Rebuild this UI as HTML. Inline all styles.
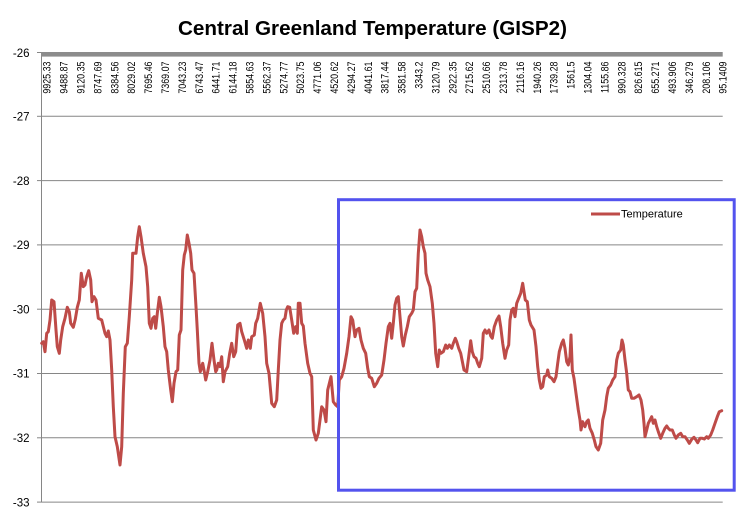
<!DOCTYPE html>
<html>
<head>
<meta charset="utf-8">
<style>
html,body{margin:0;padding:0;background:#fff;}
svg{display:block;}
text{font-family:"Liberation Sans",Arial,sans-serif;fill:#000;}
</style>
</head>
<body>
<svg width="744" height="519" viewBox="0 0 744 519" xmlns="http://www.w3.org/2000/svg">
<rect x="0" y="0" width="744" height="519" fill="#fff"/>
<!-- title -->
<text x="178" y="35" font-size="20.5" font-weight="bold" textLength="389" lengthAdjust="spacingAndGlyphs">Central Greenland Temperature (GISP2)</text>

<!-- gridlines -->
<g stroke="#868686" stroke-width="1" fill="none">
<line x1="41.5" y1="116.3" x2="722.7" y2="116.3"/>
<line x1="41.5" y1="180.6" x2="722.7" y2="180.6"/>
<line x1="41.5" y1="244.9" x2="722.7" y2="244.9"/>
<line x1="41.5" y1="309.2" x2="722.7" y2="309.2"/>
<line x1="41.5" y1="373.5" x2="722.7" y2="373.5"/>
<line x1="41.5" y1="437.8" x2="722.7" y2="437.8"/>
<line x1="41.5" y1="502.1" x2="722.7" y2="502.1"/>
<line x1="41.5" y1="52" x2="41.5" y2="502.1"/>
<line x1="37" y1="52.5" x2="41.5" y2="52.5"/>
<line x1="37" y1="116.3" x2="41.5" y2="116.3"/>
<line x1="37" y1="180.6" x2="41.5" y2="180.6"/>
<line x1="37" y1="244.9" x2="41.5" y2="244.9"/>
<line x1="37" y1="309.2" x2="41.5" y2="309.2"/>
<line x1="37" y1="373.5" x2="41.5" y2="373.5"/>
<line x1="37" y1="437.8" x2="41.5" y2="437.8"/>
<line x1="37" y1="502.1" x2="41.5" y2="502.1"/>
</g>
<rect x="41" y="52" width="681.7" height="4.6" fill="#8c8c8c"/>

<!-- y labels -->
<g font-size="11.5" text-anchor="end">
<text x="29.5" y="57">-26</text>
<text x="29.5" y="120.5">-27</text>
<text x="29.5" y="184.8">-28</text>
<text x="29.5" y="249.1">-29</text>
<text x="29.5" y="313.4">-30</text>
<text x="29.5" y="377.7">-31</text>
<text x="29.5" y="442">-32</text>
<text x="29.5" y="506.3">-33</text>
</g>

<!-- x labels -->
<g font-size="11" text-anchor="end">
<text transform="translate(50.7,61.5) rotate(-90) scale(0.81,1)">9925.33</text>
<text transform="translate(67.6,61.5) rotate(-90) scale(0.81,1)">9488.87</text>
<text transform="translate(84.5,61.5) rotate(-90) scale(0.81,1)">9120.35</text>
<text transform="translate(101.4,61.5) rotate(-90) scale(0.81,1)">8747.69</text>
<text transform="translate(118.3,61.5) rotate(-90) scale(0.81,1)">8384.56</text>
<text transform="translate(135.2,61.5) rotate(-90) scale(0.81,1)">8029.02</text>
<text transform="translate(152.1,61.5) rotate(-90) scale(0.81,1)">7695.46</text>
<text transform="translate(169.0,61.5) rotate(-90) scale(0.81,1)">7369.07</text>
<text transform="translate(185.9,61.5) rotate(-90) scale(0.81,1)">7043.23</text>
<text transform="translate(202.8,61.5) rotate(-90) scale(0.81,1)">6743.47</text>
<text transform="translate(219.7,61.5) rotate(-90) scale(0.81,1)">6441.71</text>
<text transform="translate(236.6,61.5) rotate(-90) scale(0.81,1)">6144.18</text>
<text transform="translate(253.5,61.5) rotate(-90) scale(0.81,1)">5854.63</text>
<text transform="translate(270.4,61.5) rotate(-90) scale(0.81,1)">5562.37</text>
<text transform="translate(287.3,61.5) rotate(-90) scale(0.81,1)">5274.77</text>
<text transform="translate(304.2,61.5) rotate(-90) scale(0.81,1)">5023.75</text>
<text transform="translate(321.1,61.5) rotate(-90) scale(0.81,1)">4771.06</text>
<text transform="translate(338.0,61.5) rotate(-90) scale(0.81,1)">4520.62</text>
<text transform="translate(354.9,61.5) rotate(-90) scale(0.81,1)">4294.27</text>
<text transform="translate(371.8,61.5) rotate(-90) scale(0.81,1)">4041.61</text>
<text transform="translate(388.7,61.5) rotate(-90) scale(0.81,1)">3817.44</text>
<text transform="translate(405.6,61.5) rotate(-90) scale(0.81,1)">3581.58</text>
<text transform="translate(422.5,61.5) rotate(-90) scale(0.81,1)">3343.2</text>
<text transform="translate(439.4,61.5) rotate(-90) scale(0.81,1)">3120.79</text>
<text transform="translate(456.3,61.5) rotate(-90) scale(0.81,1)">2922.35</text>
<text transform="translate(473.2,61.5) rotate(-90) scale(0.81,1)">2715.62</text>
<text transform="translate(490.1,61.5) rotate(-90) scale(0.81,1)">2510.66</text>
<text transform="translate(507.0,61.5) rotate(-90) scale(0.81,1)">2313.78</text>
<text transform="translate(523.9,61.5) rotate(-90) scale(0.81,1)">2116.16</text>
<text transform="translate(540.8,61.5) rotate(-90) scale(0.81,1)">1940.26</text>
<text transform="translate(557.7,61.5) rotate(-90) scale(0.81,1)">1739.28</text>
<text transform="translate(574.6,61.5) rotate(-90) scale(0.81,1)">1561.5</text>
<text transform="translate(591.5,61.5) rotate(-90) scale(0.81,1)">1304.04</text>
<text transform="translate(608.4,61.5) rotate(-90) scale(0.81,1)">1155.86</text>
<text transform="translate(625.3,61.5) rotate(-90) scale(0.81,1)">990.328</text>
<text transform="translate(642.2,61.5) rotate(-90) scale(0.81,1)">826.615</text>
<text transform="translate(659.1,61.5) rotate(-90) scale(0.81,1)">655.271</text>
<text transform="translate(676.0,61.5) rotate(-90) scale(0.81,1)">493.906</text>
<text transform="translate(692.9,61.5) rotate(-90) scale(0.81,1)">346.279</text>
<text transform="translate(709.8,61.5) rotate(-90) scale(0.81,1)">208.106</text>
<text transform="translate(726.7,61.5) rotate(-90) scale(0.81,1)">95.1409</text>
</g>

<!-- data series -->
<polyline fill="none" stroke="#be4b48" stroke-width="3" stroke-linejoin="round" stroke-linecap="round" points="
41.7,343.3 43.3,341.7 45,351.7 46.7,333.3 48.3,331.7 50,320 51.7,300 54,301.7 56,330 57.3,346.7 59.3,353.3 60.7,340 62.7,326.7 65,318.3 67.3,307.3 69.3,311.7 70.7,323.3 73.3,327.3 75.3,319.3 77.3,307.3 79.3,300 81.3,273.3 83.3,286.7 85,285 86.7,276.7 88.7,270.7 90.7,280 92,301.7 94,296.7 96,300 98.3,318.3 101.7,320 105,333.3 106.7,336.7 108.3,331 110,340 111.7,370 113.3,406.7 115,436.7 117.3,446.7 120,465 121.7,446.7 123.3,393.3 125.3,346.7 127.3,343.3 129.3,316.7 131.7,280 132.7,253.3 136,253.3 137.7,236.7 139.3,226.7 141,236.7 143.3,253.3 146,266.7 147.7,286.7 149.3,323.3 151,328.3 152.7,318.3 154.3,316.7 155.7,328.3 157.3,313.3 159.3,297.3 161,306.7 163.3,326.7 165,346.7 166.7,351.7 168.3,370 170.7,390 172.3,401.7 174,383.3 176,371.7 177.7,370 179.3,335 181,330 182.7,270 184.3,255 185.7,250 187.3,235 189,243.3 190.7,253.3 192,270 194,273.3 196,306.7 197.3,330 199,363.3 200.3,371.7 202.7,363.3 204.3,371.7 205.7,380 207.7,371.7 210,360 212,343.3 214,360 215.7,371.7
216.7,370 218.3,363.3 220,366.7 221.7,356.7 223.3,381.7 225,371.7 227.7,366.7 229.7,353.3 231.7,343.3 233.7,356.7 235.7,351.7 237.7,325 240,323.3 241.7,331.7 244.3,340 246.7,348.3 248.3,340 250.3,348.3 251.7,336.7 254.3,335 255.7,323.3 257.7,318.3 260.3,303.3 262.7,313.3 265,336.7 266.7,363.3 269,373.3 271.7,403.3 274.3,406.7 276.7,400 278.3,370 280,340 281.7,323.3 283.3,320 285,318.3 286.3,310 287.7,306.7 289.7,307.3 291.7,320 293.7,333.3 295.7,326.7 297.3,333.3 298.3,303.3 300,303.3 301.7,323.3 303.3,326 305,343.3 307.7,363.3 310,373.3 311.7,376.7 313.3,430 316,440 318.3,433.3 320,420 321.7,406.7 324,410 326,421.7 327.7,390 331,376.7 333.3,401.7 335.7,405 337.7,406.7 339.3,380 341.7,376.7 344,368.3 346.7,353.3 349,336.7 351,316.7 352.7,320 355,336.7 356.7,330 359,328.3 361,340 363.3,348.3 365.7,353.3 367.7,368.3 369.3,376.7 371.7,378.3 374.3,386.7 376.7,383.3 379,378.3 381.7,375 384,360 386,343.3 388.3,326.7 390,323.3
391.7,338.3 393.3,323.3 395,305 396.7,298.3 398.3,296.7 400,316.7 401.7,336.7 403.3,346 405.3,335 407.3,326.7 409.3,316.7 411.7,313.3 413.3,310 415,291.7 416.7,288.3 418.3,253.3 420,230 421.7,236.7 423.3,246.7 425,253.3 426,273.3 427.7,280 430,286.7 432.3,303.3 434,323.3 435.7,353.3 437.7,366.7 439.3,350 441,353.3 443.3,351.7 445.7,345 447.3,348.3 449.3,345 451.7,348.3 453.3,343.3 455.3,338.3 456.7,341.7 458.7,348.3 460.7,353.3 462.7,363.3 464,370 466.7,371.7 468.7,356.7 470.7,340.7 472.3,351.7 474,356.7 476,358.3 477.7,363.3 479.3,366.7 481.7,358.3 483.3,333.3 485,330 486.7,333.3 489,330 490.7,336 492.3,338.3 494.3,326.7 496.7,320 499,316 500.7,326.7 502.7,343.3 505,358.3 506.7,350 508.7,345 510,320 511.7,310 513.3,308.3 515,316.7 516.7,303.3 518.7,298.3 520.7,293.3 522.7,283.3 524,291.7 525.3,300 527.3,301.7 529.3,320 531,325 534,330 536,346.7 537.7,366.7 539.3,380 541,388.3 542.7,386.7 544.3,376.7 546.7,375 547.7,370 549.3,376.7 551.7,378.3 554,381.7 556,376.7 557.7,363.3 559.3,351.7
561.7,343.3 563.3,340 565,348.3 566.7,361.7 568.3,365 570,356.7 571,335 572.3,370 574,378.3 576,393.3 578.3,410 580,420 581,430 582.7,421.7 585,426.7 586.7,421.7 588.3,420 590,428.3 592.3,433.3 594.3,440 596,446.7 598.3,450 600.7,443.3 602.7,420 605,410 606.7,396.7 608.3,388.3 610.7,385 612.7,380 615,376.7 616.7,360 618.3,353.3 620.7,350 622,340 623.3,345 625,360 626.7,373.3 628.3,390 630,391.7 631.7,398.3 634,398.3 636.7,396.7 639,395 641,400 642.7,410 644,423.3 645,436.7 646.7,430 648.3,423.3 650,420 651.7,416.7 653.3,423.3 655,420 656.7,426.7 658.3,431.7 660.7,438.3 662.7,433.3 665,428.3 666.7,426 668.3,428.3 670,430 672.3,430 674.3,435 676,438.3 678.3,435 680.7,433.3 682.7,436.7 685,436.7 687.3,440 689.3,443.3 691.7,439.3 694,437.3 696,440 697.7,442.7 700,438.3 702.3,438.3 704.3,439 706.7,436.7 708.3,438.3 710.7,435 712.7,430 715,423.3 717.3,416.7 719.3,411.7 721.7,410.7"/>

<!-- legend -->
<line x1="591" y1="214" x2="620" y2="214" stroke="#be4b48" stroke-width="3"/>
<text x="621" y="217.5" font-size="11">Temperature</text>

<!-- blue highlight box -->
<rect x="338.5" y="199.7" width="395.7" height="290.5" fill="none" stroke="#5353ee" stroke-width="3"/>
</svg>
</body>
</html>
